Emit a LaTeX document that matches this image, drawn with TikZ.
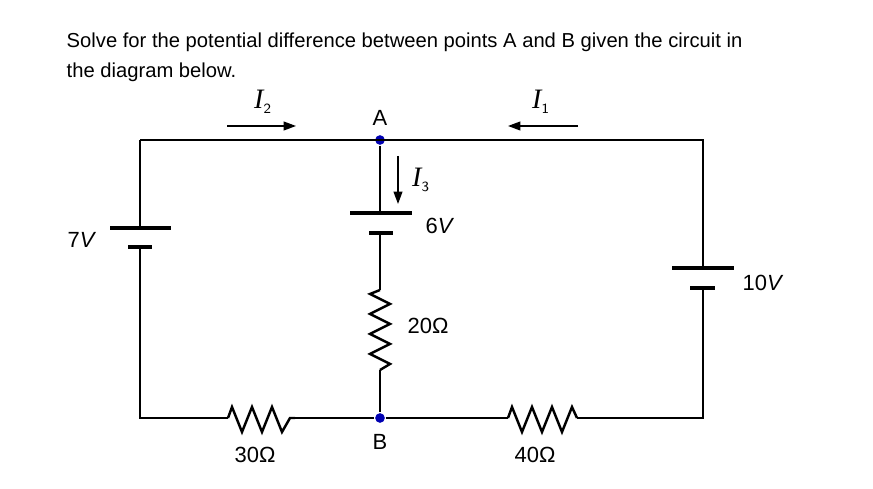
\documentclass[tikz,border=0pt]{standalone}
\usepackage{fontspec}
\usetikzlibrary{arrows.meta}
\setmainfont{Liberation Sans}
\newfontfamily\curfont{Liberation Serif}
\begin{document}
\begin{tikzpicture}[x=0.02cm,y=-0.02cm,line width=0.8pt,
    lbl/.style={font=\fontsize{11.5}{12}\selectfont,inner sep=0pt},
    clbl/.style={font=\fontsize{12.5}{12}\selectfont,inner sep=0pt},
    cur/.style={font=\fontsize{16}{16}\selectfont\curfont\itshape,inner sep=0pt},
    dot/.style={circle,fill=blue!70!black,inner sep=0pt,minimum size=5.5pt},
    plate/.style={line width=1.8pt},
    res/.style={line width=1.4pt,line join=miter}]
            \useasboundingbox (0,0) rectangle (873,489);
            \node[lbl,anchor=west] at (66,42)(t1){Solve for the potential difference between points A and B given the circuit in};
            \node[lbl,anchor=west] at (66,72)(t2){the diagram below.};
            % corners and junctions
            \coordinate (tl) at (140,140);
            \coordinate (tr) at (703,140);
            \coordinate (bl) at (140,418);
            \coordinate (br) at (703,418);
            \node[dot] at (380,140)(A){};
            \node[dot] at (380,418)(B){};
            % left battery 7V
            \coordinate (l1) at (140,228);
            \coordinate (l2) at (140,247);
            \draw (tl) -- (l1);
            \draw[plate] (110,228) -- (171,228);
            \draw[plate] (128,247) -- (152,247);
            \draw (l2) -- (bl) -- (228,418);
            % 30 ohm
            \draw[res] (228,418) -- (232,407) -- (242,432) -- (252,407) -- (262,432) -- (272,407) -- (282,432) -- (290,418) -- (295,418);
            \draw (295,418) -- (B) -- (508,418);
            % 40 ohm
            \draw[res] (508,418) -- (512,407) -- (522,432) -- (532,407) -- (542,432) -- (552,407) -- (562,432) -- (572,407) -- (577,418);
            \draw (577,418) -- (br) -- (703,288);
            % right battery 10V
            \draw[plate] (672,268) -- (734,268);
            \draw[plate] (690,288) -- (715,288);
            \draw (703,268) -- (tr) -- (tl);
            % middle branch
            \draw (A) -- (380,213);
            \draw[plate] (350,213) -- (412,213);
            \draw[plate] (369,233) -- (393,233);
            \draw (380,233) -- (380,290);
            \draw[res] (380,290) -- (370,294) -- (390,304) -- (370,314) -- (390,324) -- (370,334) -- (390,344) -- (370,354) -- (390,364) -- (380,370);
            \draw (380,370) -- (B);
            % labels
            \node[clbl] at (380,118)(labA){A};
            \node[clbl] at (380,442)(labB){B};
            \node[clbl] at (82,240)(v7){7\textit{V}};
            \node[clbl] at (440,226)(v6){6\textit{V}};
            \node[clbl] at (763,283)(v10){10\textit{V}};
            \node[clbl] at (428,326)(r20){20Ω};
            \node[clbl] at (255,455)(r30){30Ω};
            \node[clbl] at (535,455)(r40){40Ω};
            % currents
            \node[cur] at (263,102)(i2){I\textsubscript{\upshape\sffamily\fontsize{8}{8}\selectfont 2}};
            \node[cur] at (541,102)(i1){I\textsubscript{\upshape\sffamily\fontsize{8}{8}\selectfont 1}};
            \node[cur] at (421,180)(i3){I\textsubscript{\upshape\sffamily\fontsize{8}{8}\selectfont 3}};
            \coordinate (a2s) at (227,126); \coordinate (a2e) at (296,126);
            \coordinate (a1s) at (578,126); \coordinate (a1e) at (508,126);
            \coordinate (a3s) at (398,156); \coordinate (a3e) at (398,204);
            \path[draw,>={Triangle[length=7pt,width=5pt]},->] (a2s) -- (a2e);
            \path[draw,>={Triangle[length=7pt,width=5pt]},->] (a1s) -- (a1e);
            \path[draw,>={Triangle[length=7pt,width=5pt]},->] (a3s) -- (a3e);
\end{tikzpicture}
\end{document}
